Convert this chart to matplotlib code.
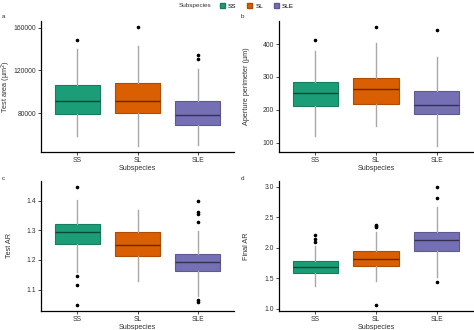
import numpy as np
import matplotlib.pyplot as plt
from matplotlib.patches import Patch

plt.rcParams['font.family'] = ['Liberation Sans', 'DejaVu Sans']

subspecies = ['SS', 'SL', 'SLE']
fills = ['#1b9e77', '#d95f02', '#7570b3']

# box statistics: q1, median, q3, whisker low, whisker high
area_q1 = [78800, 80000, 69200]
area_med = [91800, 91800, 78100]
area_q3 = [106000, 108600, 91200]
area_lo = [58600, 49300, 50600]
area_hi = [139900, 143000, 121300]
area_out = [[148100], [160600], [134300, 130900]]

aper_q1 = [213, 219, 188]
aper_med = [252, 264, 215]
aper_q3 = [286, 298, 258]
aper_lo = [121, 150, 90]
aper_hi = [380, 402, 362]
aper_out = [[412], [452], [444]]

tar_q1 = [1.252, 1.213, 1.162]
tar_med = [1.293, 1.251, 1.194]
tar_q3 = [1.320, 1.294, 1.221]
tar_lo = [1.160, 1.128, 1.077]
tar_hi = [1.402, 1.368, 1.297]
tar_out = [[1.446, 1.146, 1.116, 1.048], [], [1.399, 1.361, 1.354, 1.328, 1.065, 1.060]]

far_q1 = [1.59, 1.70, 1.95]
far_med = [1.683, 1.81, 2.13]
far_q3 = [1.78, 1.95, 2.254]
far_lo = [1.37, 1.46, 1.52]
far_hi = [2.02, 2.265, 2.66]
far_out = [[2.205, 2.145, 2.087], [2.38, 2.36, 2.34, 1.057], [2.998, 2.815, 1.43]]

ylabels = ['Test area (µm$^2$)', 'Aperture perimeter (µm)', 'Test AR', 'Final AR']
yticks = [[80000, 120000, 160000], [100, 200, 300, 400], [1.1, 1.2, 1.3, 1.4],
          [1.0, 1.5, 2.0, 2.5, 3.0]]
panels = ['a', 'b', 'c', 'd']


def darker(c, f=0.55):
    rgb = np.array(plt.matplotlib.colors.to_rgb(c))
    return tuple(rgb * f)


def make_stats(q1, med, q3, lo, hi, out):
    return [dict(q1=q1[i], med=med[i], q3=q3[i], whislo=lo[i], whishi=hi[i],
                 fliers=out[i]) for i in range(3)]


data = [make_stats(area_q1, area_med, area_q3, area_lo, area_hi, area_out),
        make_stats(aper_q1, aper_med, aper_q3, aper_lo, aper_hi, aper_out),
        make_stats(tar_q1, tar_med, tar_q3, tar_lo, tar_hi, tar_out),
        make_stats(far_q1, far_med, far_q3, far_lo, far_hi, far_out)]

fig = plt.figure(figsize=(4.74, 3.30), dpi=100)
rects = [[0.0865, 0.5394, 0.4072, 0.397], [0.5886, 0.5394, 0.4094, 0.397],
         [0.0865, 0.0576, 0.4072, 0.394], [0.5886, 0.0576, 0.4094, 0.394]]
lab_pos = [(0.004, 0.945), (0.508, 0.945), (0.004, 0.455), (0.508, 0.455)]
ylab_x = [0.028, 0.528, 0.027, 0.528]

for k in range(4):
    ax = fig.add_axes(rects[k])
    stats = data[k]
    for i, st in enumerate(stats):
        ax.bxp([st], positions=[i + 1], widths=0.75, patch_artist=True,
               showcaps=False,
               boxprops=dict(facecolor=fills[i], edgecolor=darker(fills[i], 0.8), linewidth=0.8),
               medianprops=dict(color=darker(fills[i], 0.45), linewidth=1.0),
               whiskerprops=dict(color='#a8a8a8', linewidth=1.0),
               flierprops=dict(marker='o', markersize=1.6, markerfacecolor='black',
                               markeredgecolor='black'),
               zorder=2)
    vals = []
    for st in stats:
        vals += [st['whislo'], st['whishi']] + list(st['fliers'])
    lo, hi = min(vals), max(vals)
    pad = (hi - lo) * 0.05
    ax.set_ylim(lo - pad, hi + pad)
    ax.set_xlim(0.4, 3.6)
    ax.set_xticks([1, 2, 3])
    ax.set_xticklabels(subspecies)
    ax.set_yticks(yticks[k])
    ax.set_yticklabels([('%g' % v) if k < 2 else ('%.1f' % v) for v in yticks[k]])
    ax.tick_params(labelsize=4.9, length=2.2, width=0.5, pad=1.2, colors='black',
                   labelcolor='#333333')
    for s in ['top', 'right']:
        ax.spines[s].set_visible(False)
    for s in ['left', 'bottom']:
        ax.spines[s].set_linewidth(0.9)
    ax.set_xlabel('Subspecies', fontsize=5.2, color='#333333', labelpad=0.8)
    ax.set_ylabel(ylabels[k], fontsize=5.2, color='#333333')
    ycen = rects[k][1] + rects[k][3] / 2
    ax.yaxis.set_label_coords(ylab_x[k], ycen, transform=fig.transFigure)
    fig.text(lab_pos[k][0], lab_pos[k][1], panels[k], fontsize=4.5, color='#333333')

fig.text(0.447, 0.982, 'Subspecies', fontsize=4.6, color='#333333', ha='right', va='center')
handles = [Patch(facecolor=fills[i], edgecolor=darker(fills[i], 0.8), label=subspecies[i])
           for i in range(3)]
fig.legend(handles=handles, ncol=3, loc='center left', bbox_to_anchor=(0.464, 0.982),
           frameon=False, fontsize=4.6, handlelength=0.8, handleheight=0.8,
           handletextpad=0.45, columnspacing=1.7, borderpad=0, borderaxespad=0)

fig.savefig('out.png', dpi=100)
